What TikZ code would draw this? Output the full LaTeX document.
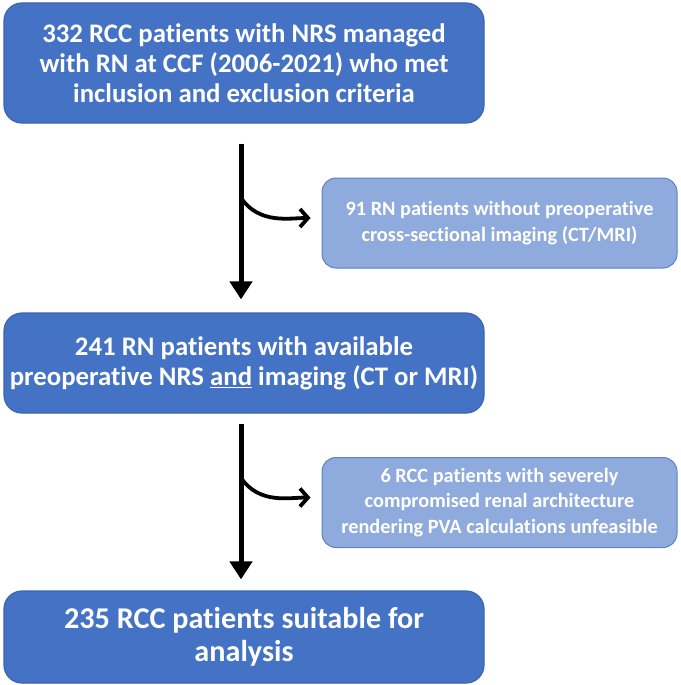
\documentclass[tikz,border=0pt]{standalone}
\usepackage{fontspec}
\setmainfont{Carlito}[Ligatures=NoCommon]
\usetikzlibrary{arrows.meta}
\definecolor{mainblue}{HTML}{4472C4}
\definecolor{mainedge}{HTML}{3A64AE}
\definecolor{sideblue}{HTML}{8FAADC}
\definecolor{sideedge}{HTML}{5E82C4}
\begin{document}
\begin{tikzpicture}[x=1pt,y=-1pt,
		mainbox/.style={draw=mainedge,fill=mainblue,line width=1.2pt,rounded corners=18pt,minimum width=480pt,text=white,font=\fontsize{26.8}{30}\selectfont\bfseries,align=center,inner sep=0pt},
		sidebox/.style={draw=sideedge,fill=sideblue,line width=1pt,rounded corners=14pt,minimum width=355pt,minimum height=90pt,text=white,font=\fontsize{20.3}{25.5}\selectfont\bfseries,align=center,inner sep=0pt},
		down/.style={line width=5pt,-{Triangle[width=22pt,length=18pt]}},
		aside/.style={line width=3.8pt,-{Straight Barb[width=18pt,length=8pt]}}]
		\useasboundingbox (0,0) rectangle (680,685);
		
		\node[mainbox,minimum height=120pt] (all) at (244,63) {332 RCC patients with NRS managed\\with RN at CCF (2006-2021) who met\\inclusion and exclusion criteria};
		\node[sidebox] (noimg) at (499.5,223) {91 RN patients without preoperative\\cross-sectional imaging (CT/MRI)};
		
		\node[mainbox,minimum height=100pt] (avail) at (244,363) {241 RN patients with available\\preoperative NRS \underline{and} imaging (CT or MRI)};
		\node[sidebox] (severe) at (499.5,502.5) {6 RCC patients with severely\\compromised renal architecture\\rendering PVA calculations unfeasible};
		
		\node[mainbox,minimum height=92pt,font=\fontsize{30.2}{33}\selectfont\bfseries] (final) at (244,637) {235 RCC patients suitable for\\analysis};
		
		\coordinate (b1) at (241,198);
		\coordinate (b2) at (241,478);
		
		\draw[down,shorten <=20pt,shorten >=13pt] (all.south -| b1) -- (avail.north -| b1);
		\draw[down,shorten <=10pt,shorten >=11pt] (avail.south -| b2) -- (final.north -| b2);
		
		\draw[aside,shorten >=11pt] (b1) to[out=-55,in=180] ([yshift=5pt]noimg.west);
		\draw[aside,shorten >=11pt] (b2) to[out=-55,in=180] ([yshift=5pt]severe.west);
	\end{tikzpicture}
\end{document}
